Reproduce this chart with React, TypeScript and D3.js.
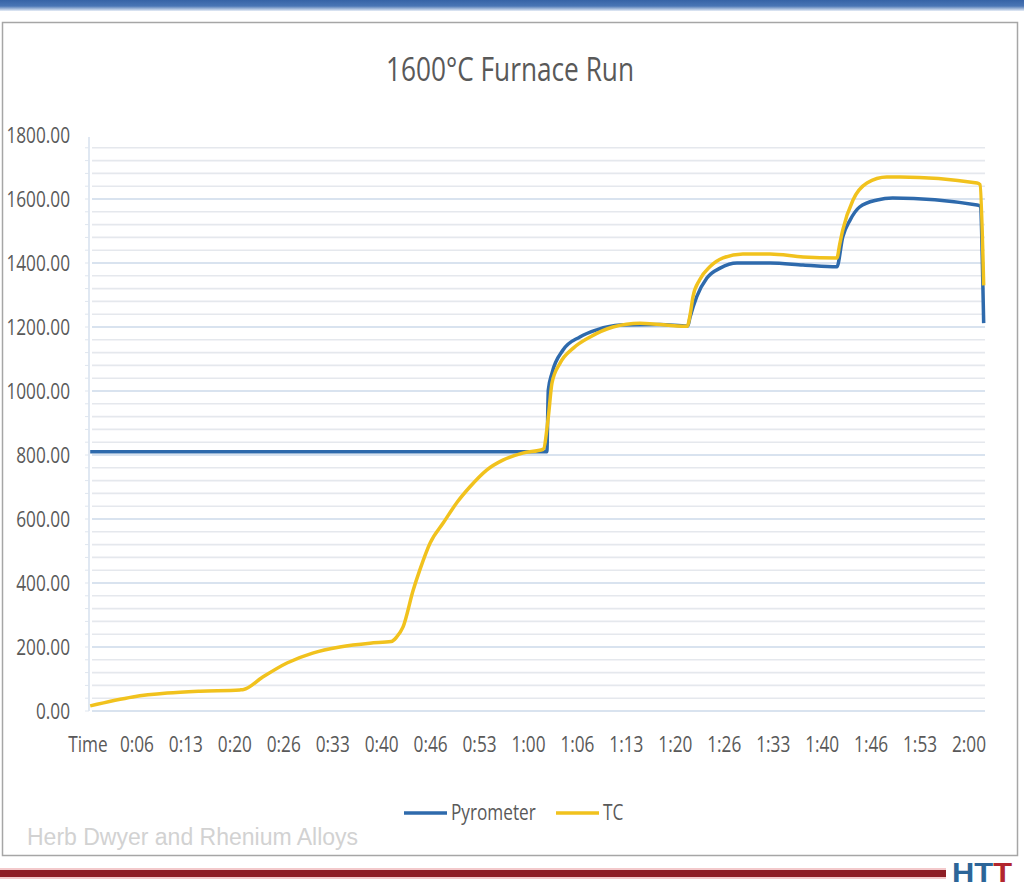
import React, { useEffect, useRef } from 'react';
import * as d3 from 'd3';

// x axis category labels (Excel time axis, first cell is the header)
const tickLabels = ["Time", "0:06", "0:13", "0:20", "0:26", "0:33", "0:40", "0:46", "0:53", "1:00",
  "1:06", "1:13", "1:20", "1:26", "1:33", "1:40", "1:46", "1:53", "2:00"];

const yTicks = [0, 200, 400, 600, 800, 1000, 1200, 1400, 1600, 1800];

// elapsed minutes / temperature
const tcMinutes = [0.3, 6.1, 10.8, 15.3, 20.7, 21.2, 23.8, 27.1, 30.6, 34.3, 38.4, 41.3, 42.0, 42.9, 44.3,
  45.2, 46.6, 48.4, 50.3, 52.0, 54.3, 56.5, 59.2, 62.0, 62.7, 63.2, 64.3, 66.1, 68.4, 71.5, 75.2, 81.6,
  82.1, 82.4, 83.3, 84.7, 86.5, 89.2, 92.9, 97.4, 102.0, 102.4, 102.8, 104.2, 106.1, 108.8, 110.6, 121.1, 121.5, 122.0];
const tcTemp = [16, 44, 56, 62, 66, 67, 106, 150, 181, 200, 212, 217, 230, 262, 378,
  441, 525, 588, 653, 700, 753, 784, 806, 818, 919, 1025, 1087, 1134, 1169, 1200, 1212, 1202,
  1250, 1294, 1347, 1388, 1416, 1428, 1428, 1419, 1416, 1460, 1503, 1597, 1650, 1669, 1669, 1650, 1645, 1330];

const pyroMinutes = [0.3, 62.5, 62.7, 63.2, 64.7, 67.0, 69.3, 72.5, 77.9, 81.7, 82.0, 82.9, 84.3, 86.1,
  88.4, 92.9, 97.4, 102.0, 102.8, 103.8, 105.1, 107.5, 109.6, 121.1, 121.5, 122.0];
const pyroTemp = [810, 810, 1003, 1056, 1128, 1169, 1191, 1206, 1208, 1203, 1230, 1294, 1353, 1384,
  1400, 1400, 1394, 1388, 1481, 1534, 1575, 1597, 1603, 1581, 1578, 1212];

const W = 1024;
const H = 883;
const font = "'Open Sans', sans-serif";
const squeeze = 0.82;

const App = () => {
  const ref = useRef(null);

  useEffect(() => {
    const svg = d3.select(ref.current);
    svg.selectAll("*").remove();

    const x = d3.scaleLinear().domain([0, 120]).range([88, 969]);
    const xLabel = d3.scalePoint().domain(tickLabels).range([88, 969]);
    const y = d3.scaleLinear().domain([0, 1800]).range([711, 135]);

    // page frame
    const top = svg.append("defs").append("linearGradient")
      .attr("id", "topbar").attr("x1", 0).attr("x2", 0).attr("y1", 0).attr("y2", 1);
    top.append("stop").attr("offset", "0%").attr("stop-color", "#3663a6");
    top.append("stop").attr("offset", "55%").attr("stop-color", "#4a76b5");
    top.append("stop").attr("offset", "100%").attr("stop-color", "#e6edf7");
    svg.append("rect").attr("x", 0).attr("y", 0).attr("width", W).attr("height", 11).attr("fill", "url(#topbar)");

    svg.append("rect").attr("x", 2.5).attr("y", 22.5).attr("width", 1015).attr("height", 833)
      .attr("fill", "#fff").attr("stroke", "#a6a6a6").attr("stroke-width", 1.5);

    // gridlines, every 40 with the 200s a bit bluer
    const grid = d3.range(0, 1800, 40);
    svg.append("g").selectAll("line").data(grid).enter().append("line")
      .attr("x1", 92).attr("x2", 985)
      .attr("y1", (d) => y(d)).attr("y2", (d) => y(d))
      .attr("stroke", (d) => (d % 200 === 0 ? "#cddaea" : "#e5e8ed"))
      .attr("stroke-width", 1.6);

    // y axis line with small ticks
    svg.append("line").attr("x1", 89).attr("x2", 89).attr("y1", 137).attr("y2", 711)
      .attr("stroke", "#d6e1ee").attr("stroke-width", 1.5);
    svg.append("g").selectAll("line").data(grid).enter().append("line")
      .attr("x1", 85).attr("x2", 89)
      .attr("y1", (d) => y(d)).attr("y2", (d) => y(d))
      .attr("stroke", "#dfe6ef").attr("stroke-width", 1);

    svg.append("g").selectAll("text").data(yTicks).enter().append("text")
      .attr("transform", (d) => `translate(70, ${y(d) + 7.5}) scale(${squeeze}, 1)`)
      .attr("text-anchor", "end")
      .attr("font-family", font).attr("font-size", 21)
      .attr("fill", "#595959")
      .text((d) => d3.format(".2f")(d));

    svg.append("g").selectAll("text").data(tickLabels).enter().append("text")
      .attr("transform", (d) => `translate(${xLabel(d)}, 752) scale(${squeeze}, 1)`)
      .attr("text-anchor", "middle")
      .attr("font-family", font).attr("font-size", 21)
      .attr("fill", "#595959")
      .text((d) => d);

    // title
    svg.append("text")
      .attr("transform", `translate(510, 81) scale(${squeeze}, 1)`)
      .attr("text-anchor", "middle")
      .attr("font-family", font).attr("font-size", 32)
      .attr("fill", "#595959")
      .text("1600°C Furnace Run");

    const line = d3.line().x((d) => x(d[0])).y((d) => y(d[1])).curve(d3.curveMonotoneX);

    svg.append("path")
      .datum(pyroMinutes.map((t, i) => [t, pyroTemp[i]]))
      .attr("d", line).attr("fill", "none")
      .attr("stroke", "#2e6aac").attr("stroke-width", 3.5).attr("stroke-linejoin", "round");

    svg.append("path")
      .datum(tcMinutes.map((t, i) => [t, tcTemp[i]]))
      .attr("d", line).attr("fill", "none")
      .attr("stroke", "#f1c21d").attr("stroke-width", 3.5).attr("stroke-linejoin", "round");

    // legend
    const legend = [
      { name: "Pyrometer", color: "#2e6aac", x: 404 },
      { name: "TC", color: "#f1c21d", x: 556 },
    ];
    const lg = svg.append("g").selectAll("g").data(legend).enter().append("g");
    lg.append("line").attr("x1", (d) => d.x).attr("x2", (d) => d.x + 43)
      .attr("y1", 813).attr("y2", 813)
      .attr("stroke", (d) => d.color).attr("stroke-width", 3.5);
    lg.append("text")
      .attr("transform", (d) => `translate(${d.x + 47}, 820) scale(${squeeze}, 1)`)
      .attr("font-family", font).attr("font-size", 21)
      .attr("fill", "#595959")
      .text((d) => d.name);

    // watermark
    svg.append("text").attr("x", 27).attr("y", 845)
      .attr("font-family", "'Liberation Sans', Arial, sans-serif").attr("font-size", 23)
      .attr("fill", "#d2d2d2")
      .text("Herb Dwyer and Rhenium Alloys");

    // bottom rule and logo
    svg.append("rect").attr("x", 0).attr("y", 868).attr("width", 946).attr("height", 11).attr("fill", "#f3c9cb");
    svg.append("rect").attr("x", 0).attr("y", 870).attr("width", 946).attr("height", 7).attr("fill", "#8e1d25");
    const logo = svg.append("text").attr("x", 952).attr("y", 882)
      .attr("font-family", "'Liberation Sans', Arial, sans-serif").attr("font-weight", "bold")
      .attr("font-size", 27).attr("textLength", 60).attr("lengthAdjust", "spacingAndGlyphs");
    logo.append("tspan").attr("fill", "#2c6598").text("HT");
    logo.append("tspan").attr("fill", "#b3262e").text("T");
  }, []);

  return (
    <svg ref={ref} width={W} height={H}
      style={{ position: "absolute", left: 0, top: 0, background: "#fff" }} />
  );
};

export default App;
